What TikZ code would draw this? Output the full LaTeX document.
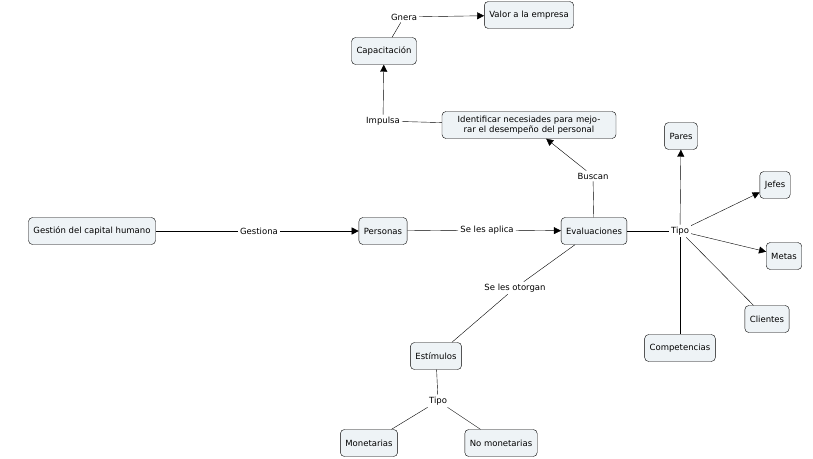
\documentclass[tikz,border=0pt]{standalone}
\usepackage{fontspec}
\setmainfont{DejaVu Sans}
\usetikzlibrary{arrows.meta}
\definecolor{cfill}{HTML}{EEF3F6}
\tikzset{
  concept/.style={draw=black, fill=cfill, rounded corners=4pt, inner sep=5pt, minimum height=27pt, font=\fontsize{8.5}{10.5}\selectfont, align=center},
  link/.style={fill=white, inner sep=2pt, font=\fontsize{8.5}{10.5}\selectfont},
  arr/.style={-{Triangle[length=7pt,width=7pt]}}
}
\begin{document}
\begin{tikzpicture}[x=1pt,y=-1pt]
  \useasboundingbox (0,0) rectangle (813,458);
  \node[concept] (gch) at (92,231) {Gestión del capital humano};
  \node[concept] (per) at (383,231) {Personas};
  \node[concept] (eva) at (594,231) {Evaluaciones};
  \node[concept, text width=168pt, inner sep=3pt] (ide) at (529,125) {Identificar necesiades para mejorar el desempeño del personal};
  \node[concept] (cap) at (384,51) {Capacitación};
  \node[concept] (val) at (529,15) {Valor a la empresa};
  \node[concept] (par) at (681,136) {Pares};
  \node[concept] (jef) at (775,185) {Jefes};
  \node[concept] (met) at (784,256) {Metas};
  \node[concept] (cli) at (767,319) {Clientes};
  \node[concept] (com) at (680,348) {Competencias};
  \node[concept] (est) at (436,356) {Estímulos};
  \node[concept] (mon) at (369,443) {Monetarias};
  \node[concept] (nom) at (501,443) {No monetarias};

  \node[link] (gest) at (259,231) {Gestiona};
  \node[link] (apl) at (487,230) {Se les aplica};
  \node[link] (bus) at (593,176) {Buscan};
  \node[link] (imp) at (383,121) {Impulsa};
  \node[link] (gen) at (404,17) {Gnera};
  \node[link] (tip) at (680,231) {Tipo};
  \node[link] (oto) at (515,288) {Se les otorgan};
  \node[link] (tip2) at (438,401) {Tipo};

  \draw (gch) -- (gest);
  \draw[arr] (gest) -- (per);
  \draw (per) -- (apl);
  \draw[arr] (apl) -- (eva);
  \draw (eva) -- (bus);
  \draw[arr] (bus) -- (ide);
  \draw (ide) -- (imp);
  \draw[arr] (imp) -- (cap);
  \draw (cap) -- (gen);
  \draw[arr] (gen) -- (val);
  \draw (eva) -- (tip);
  \draw[arr] (tip) -- (par);
  \draw[arr] (tip) -- (jef);
  \draw[arr] (tip) -- (met);
  \draw (tip) -- (cli);
  \draw (tip) -- (com);
  \draw (eva) -- (oto);
  \draw (oto) -- (est);
  \draw (est) -- (tip2);
  \draw (tip2) -- (mon);
  \draw (tip2) -- (nom);
\end{tikzpicture}
\end{document}
